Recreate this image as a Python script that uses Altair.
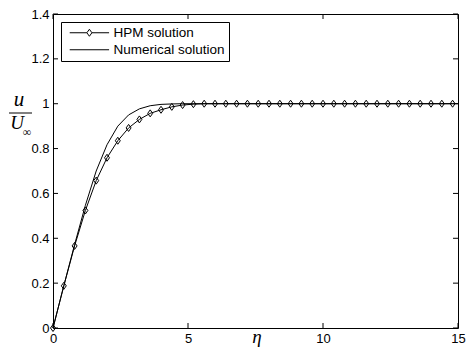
import altair as alt
import pandas as pd

# ---- data ----
hpm_eta = [0.0, 0.4, 0.8, 1.2, 1.6, 2.0, 2.4, 2.8, 3.2, 3.6, 4.0, 4.4, 4.8, 5.2,
           5.6, 6.0, 6.4, 6.8, 7.2, 7.6, 8.0, 8.4, 8.8, 9.2, 9.6, 10.0, 10.4, 10.8,
           11.2, 11.6, 12.0, 12.4, 12.8, 13.2, 13.6, 14.0, 14.4, 14.8]
hpm_u = [0.0, 0.188, 0.366, 0.524, 0.657, 0.759, 0.835, 0.892, 0.930, 0.957, 0.973,
         0.986, 0.994, 0.998, 1.0, 1.0, 1.0, 1.0, 1.0, 1.0, 1.0, 1.0, 1.0, 1.0,
         1.0, 1.0, 1.0, 1.0, 1.0, 1.0, 1.0, 1.0, 1.0, 1.0, 1.0, 1.0, 1.0, 1.0]

num_eta = [0.0, 0.4, 0.8, 1.2, 1.6, 2.0, 2.4, 2.8, 3.2, 3.6, 4.0, 4.4, 4.8, 15.0]
num_u = [0.0, 0.188, 0.372, 0.547, 0.700, 0.817, 0.900, 0.950, 0.977, 0.991,
         0.997, 0.999, 1.0, 1.0]

series_names = ["HPM solution", "Numerical solution"]
x_ticks = [0, 5, 10, 15]
y_ticks = [0, 0.2, 0.4, 0.6, 0.8, 1.0, 1.2, 1.4]

W, H = 405, 314

df_hpm = pd.DataFrame({"eta": hpm_eta, "u": hpm_u, "series": series_names[0]})
df_num = pd.DataFrame({"eta": num_eta, "u": num_u, "series": series_names[1]})
df_lines = pd.concat([df_hpm, df_num], ignore_index=True)

xscale = alt.Scale(domain=[0, 15], nice=False, zero=False)
yscale = alt.Scale(domain=[0, 1.4], nice=False, zero=False)
xaxis = alt.Axis(values=x_ticks, title=None, labelPadding=4, labelFontSize=13,
                 labelFont="Liberation Sans", labelColor="black", ticks=False,
                 domain=False, grid=False, labelFlush=False)
yaxis = alt.Axis(values=y_ticks, title=None, labelPadding=4, labelFontSize=13,
                 labelFont="Liberation Sans", labelColor="black", ticks=False,
                 domain=False, grid=False, format=".1~f", labelFlush=False)

X = alt.X("eta:Q", scale=xscale, axis=xaxis)
Y = alt.Y("u:Q", scale=yscale, axis=yaxis)

hpm_sym = "M-0.43,0H3.19M4.25,0H7.87M3.19,0L3.72,-0.74L4.25,0L3.72,0.74Z"
num_sym = "M-0.43,0H7.87"

legend = alt.Legend(
    title=None, orient="top-left", offset=8, padding=4, strokeColor="black",
    fillColor="white", labelFontSize=13.5, labelFont="Liberation Sans",
    labelColor="black", rowPadding=2, symbolSize=90, symbolStrokeWidth=1,
    symbolStrokeColor="black", symbolFillColor="white",
    labelOffset=35, cornerRadius=0,
)

lines = alt.Chart(df_lines).mark_line(strokeWidth=1, interpolate="linear", color="black").encode(
    x=X, y=Y, detail="series:N")

diamond = "M0,-1L0.71,0L0,1L-0.71,0Z"
points = alt.Chart(df_hpm).mark_point(shape=diamond, size=49, filled=False,
                                      color="black", strokeWidth=1, opacity=1).encode(x=X, y=Y)

# legend-only layer (drawn off-screen), legend comes from the shape scale
df_leg = pd.DataFrame({"series": series_names})
leg_layer = alt.Chart(df_leg).mark_point(filled=False, color="black", strokeWidth=1,
                                         size=90, opacity=1).encode(
    x=alt.value(-2000), y=alt.value(-2000),
    shape=alt.Shape("series:N", scale=alt.Scale(domain=series_names, range=[hpm_sym, num_sym]),
                    legend=legend),
)

dfx = pd.DataFrame({"eta": x_ticks})
dfy = pd.DataFrame({"u": y_ticks})
tick_len = 5
xt_bottom = alt.Chart(dfx).mark_rule(color="black", strokeWidth=1).encode(
    x=X, y=alt.value(H), y2=alt.value(H - tick_len))
xt_top = alt.Chart(dfx).mark_rule(color="black", strokeWidth=1).encode(
    x=X, y=alt.value(0), y2=alt.value(tick_len))
yt_left = alt.Chart(dfy).mark_rule(color="black", strokeWidth=1).encode(
    y=Y, x=alt.value(0), x2=alt.value(tick_len))
yt_right = alt.Chart(dfy).mark_rule(color="black", strokeWidth=1).encode(
    y=Y, x=alt.value(W - tick_len), x2=alt.value(W))

lab = pd.DataFrame({"t": ["u", "U", "\u221e", "\u03b7"]})
serif = "Liberation Serif"
t_u = alt.Chart(lab[lab.t == "u"]).mark_text(font=serif, fontStyle="italic", fontSize=21,
                                             baseline="alphabetic", align="center").encode(
    x=alt.value(-34), y=alt.value(92), text="t:N")
t_U = alt.Chart(lab[lab.t == "U"]).mark_text(font=serif, fontStyle="italic", fontSize=19,
                                             baseline="alphabetic", align="center").encode(
    x=alt.value(-36), y=alt.value(115), text="t:N")
t_inf = alt.Chart(lab[lab.t == "\u221e"]).mark_text(font=serif, fontSize=12,
                                                   baseline="alphabetic", align="center").encode(
    x=alt.value(-26), y=alt.value(122), text="t:N")
bar = alt.Chart(lab[lab.t == "u"]).mark_rule(color="black", strokeWidth=1).encode(
    x=alt.value(-44), x2=alt.value(-21), y=alt.value(99))
t_eta = alt.Chart(lab[lab.t == "\u03b7"]).mark_text(font=serif, fontStyle="italic", fontSize=19,
                                                   baseline="alphabetic", align="center").encode(
    x=alt.value(204), y=alt.value(329), text="t:N")

chart = alt.layer(lines, points, leg_layer, xt_bottom, xt_top, yt_left, yt_right,
                  t_u, t_U, t_inf, bar, t_eta).properties(
    width=W, height=H,
    autosize=alt.AutoSizeParams(type="none"),
    padding={"left": 45, "top": 6, "right": 8, "bottom": 19},
    background="white",
).configure_view(stroke="black", strokeWidth=1)

chart.save("out.html", embed_options={"renderer": "svg", "actions": False})
